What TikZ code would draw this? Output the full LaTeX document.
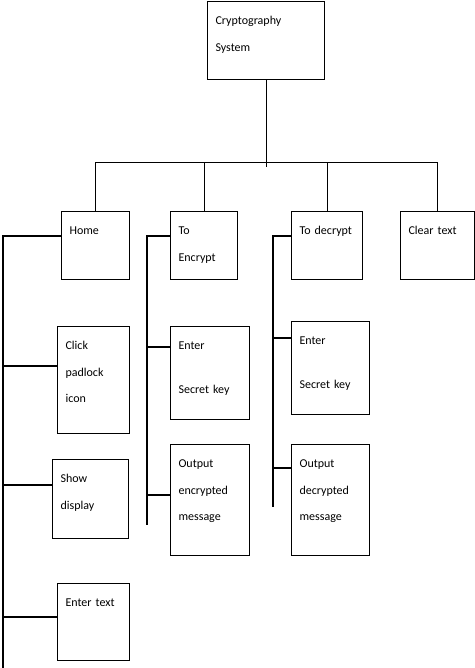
\documentclass[tikz,border=0pt]{standalone}
\usepackage{fontspec}
\setmainfont{Carlito}
\usepackage{tikz}
\usetikzlibrary{positioning,calc}

\begin{document}
\begin{tikzpicture}[
        x=1pt, y=-1pt,
        box/.style={draw, line width=1.1pt, anchor=north west, inner xsep=8pt, inner ysep=0pt,
            align=left, text height=23pt, font=\fontsize{12}{26.5}\selectfont},
        link/.style={draw, line width=1.1pt}
    ]
    \useasboundingbox (0,0) rectangle (474,668);
    % top of the tree
    \node[box, text width=101pt, text depth=55pt] (root) at (207,1) {Cryptography\\System};
    \node[box, text width=52pt, text depth=45pt] (home) at (61,211) {Home};
    \node[box, text width=51pt, text depth=45pt] (enc) at (170,211) {To\\Encrypt};
    \node[box, text width=55pt, text depth=45pt] (dec) at (291,211) {To decrypt};
    \node[box, text width=58pt, text depth=45pt] (clear) at (400,211) {Clear text};
    % home branch
    \node[box, text width=56pt, text depth=84pt] (click) at (57,326) {Click\\padlock\\icon};
    \node[box, text width=60pt, text depth=56pt] (show) at (52,459) {Show\\display};
    \node[box, text width=56pt, text depth=54pt] (entxt) at (57,583) {Enter text};
    % encrypt branch
    \node[box, text width=63pt, text depth=70pt] (enckey) at (170,326) {Enter\\[17.5pt]Secret key};
    \node[box, text width=63pt, text depth=88pt] (encout) at (170,444) {Output\\encrypted\\message};
    % decrypt branch
    \node[box, text width=62pt, text depth=70pt] (deckey) at (291,321) {Enter\\[17.5pt]Secret key};
    \node[box, text width=62pt, text depth=88pt] (decout) at (291,444) {Output\\decrypted\\message};

    \draw[link] (root.south) -- ++(0,82) coordinate (bus) -- ++(0,5);
    \draw[link] (home.north) |- (bus) -| (clear.north);
    \draw[link] (enc.north) |- (bus);
    \draw[link] (dec.north) |- (bus);

    \draw[link] ([yshift=-25]home.north west) -- ++(-58,0) coordinate (hsp) -- ++(0,432);
    \draw[link] ([yshift=-25]enc.north west) -- ++(-23,0) coordinate (esp) -- ++(0,289);
    \draw[link] ([yshift=-25]dec.north west) -- ++(-18,0) coordinate (dsp) -- ++(0,271);
    \foreach \n/\d in {click/40, show/26, entxt/34}
        \draw[link] ([yshift=-\d]\n.north west) coordinate (t) -- (t -| hsp);
    \foreach \n/\d in {enckey/21, encout/51}
        \draw[link] ([yshift=-\d]\n.north west) coordinate (t) -- (t -| esp);
    \foreach \n/\d in {deckey/17, decout/24}
        \draw[link] ([yshift=-\d]\n.north west) coordinate (t) -- (t -| dsp);
\end{tikzpicture}
\end{document}
